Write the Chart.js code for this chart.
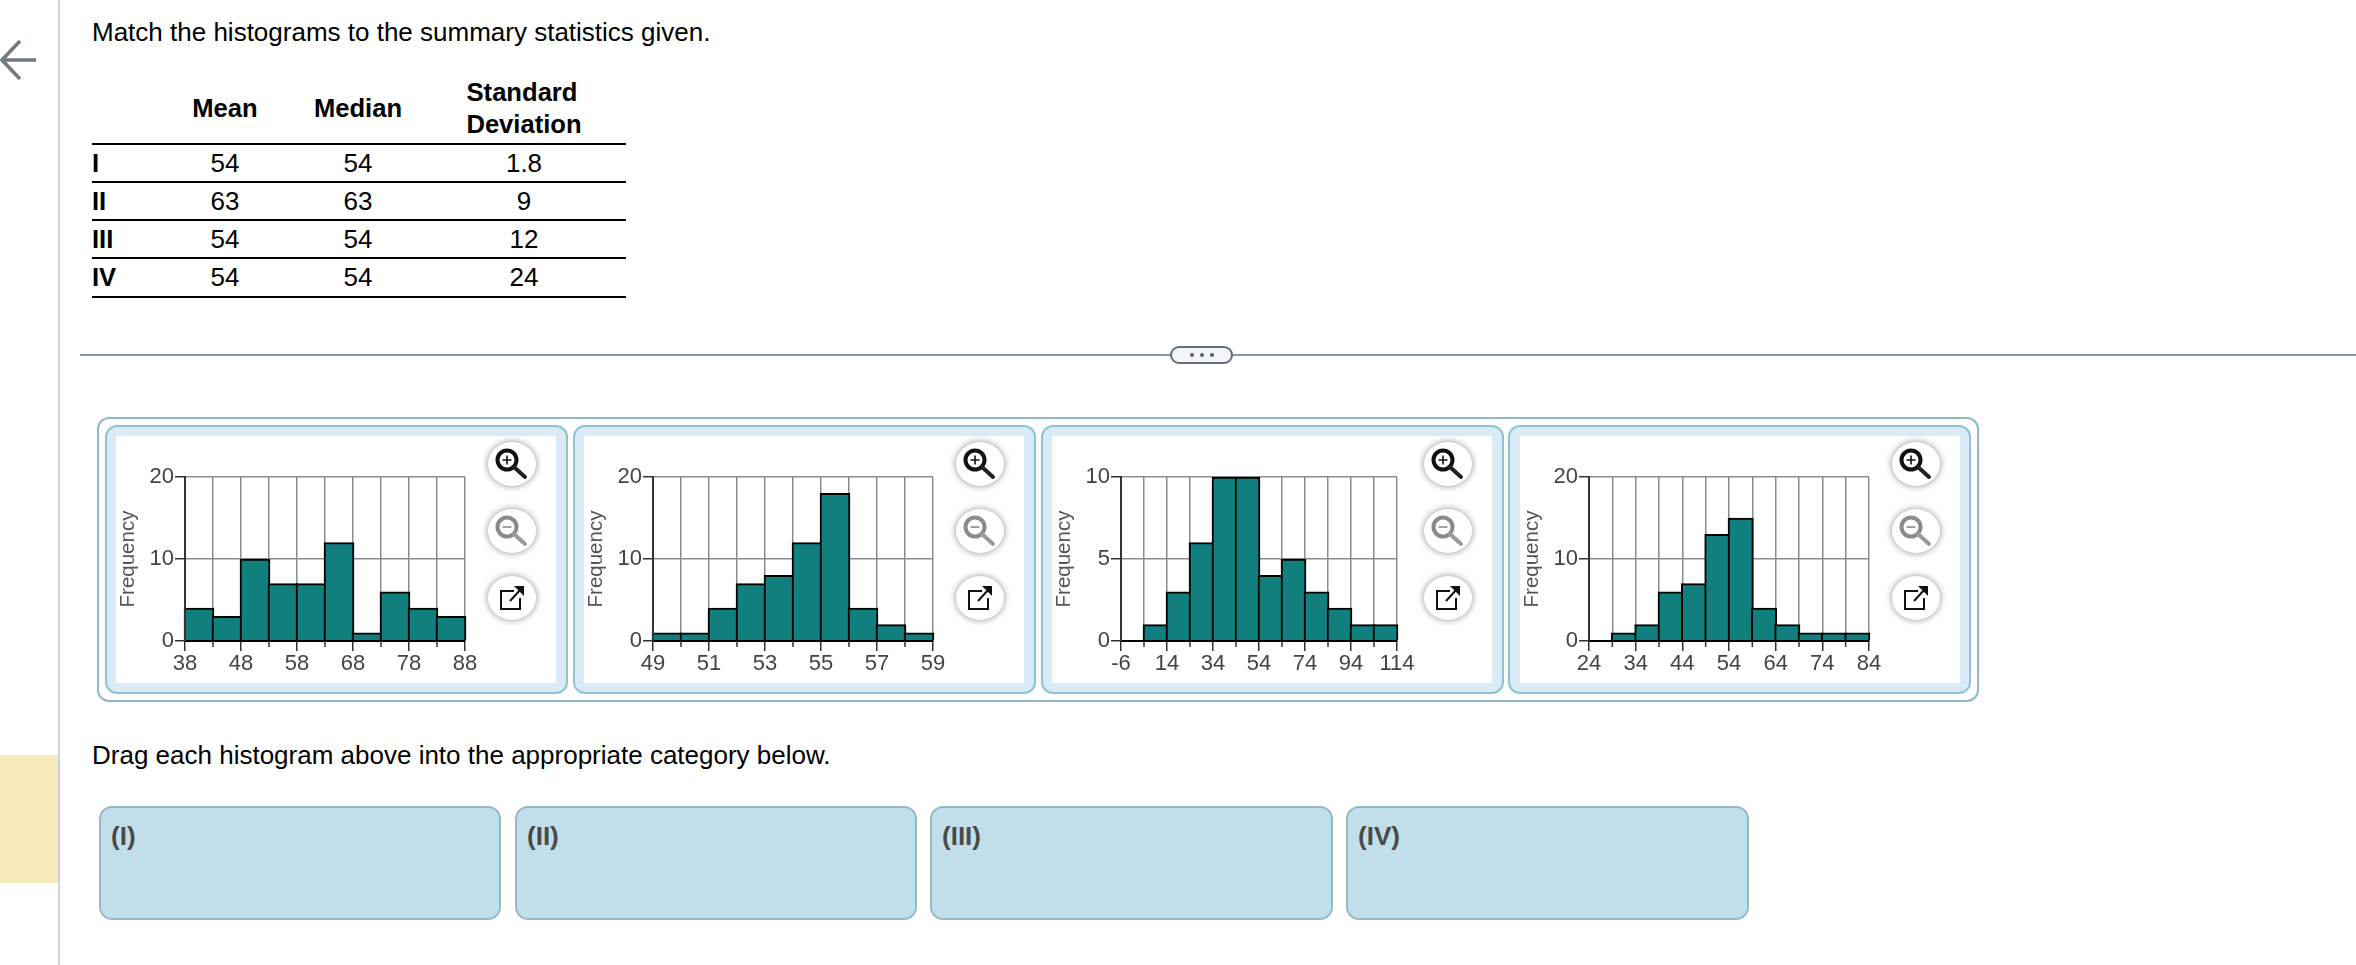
<!DOCTYPE html>
<html><head><meta charset="utf-8">
<script src="https://cdn.jsdelivr.net/npm/chart.js@4"></script>
<style>
html,body{margin:0;padding:0;background:#fff;width:2356px;height:965px;overflow:hidden;font-family:"Liberation Sans",Arial,sans-serif;color:#000}
.a{position:absolute;box-sizing:border-box}
.t{position:absolute;white-space:nowrap;font-size:26px;line-height:28px}
.c{transform:translateX(-50%)}
.b{font-weight:bold;font-size:25.6px}
.rule{position:absolute;left:92px;width:534px;height:2px;background:#000}
.card{position:absolute;top:425px;width:463px;height:269px;border:2px solid #8cc4da;border-radius:12px;background:#d9ebf4;box-sizing:border-box}
.white{position:absolute;top:436px;width:440px;height:247px;background:#fff}
canvas.h{position:absolute;top:436px}
.btn{position:absolute;width:48px;height:44px;border-radius:50%;background:#fff;box-shadow:0 0 7px rgba(0,0,0,.45)}
.btn svg{position:absolute;left:0;top:0}
.drop{position:absolute;top:806px;height:114px;background:#c1dfea;border:2px solid #96b9ca;border-radius:13px;box-sizing:border-box}
.drop span{position:absolute;left:10px;top:14px;font-size:26px;line-height:28px;font-weight:bold;color:#4a4a4a}
</style></head><body>
<div class="a" style="left:58px;top:0;width:2px;height:965px;background:#cbd3e3"></div>
<div class="a" style="left:0;top:755px;width:58px;height:128px;background:#f8e9bd"></div>
<svg class="a" style="left:0;top:36px" width="40" height="48"><path d="M36 24H3M20 5L2 24L20 43" fill="none" stroke="#6f7a80" stroke-width="3.5"/></svg>
<div class="t" id="q" style="left:92px;top:18px">Match the histograms to the summary statistics given.</div>
<div id="tbl"></div>
<div class="a" style="left:80px;top:354px;width:2276px;height:2px;background:#8a96a8"></div>
<div class="a" style="left:1170px;top:346px;width:63px;height:18px;background:#f3f5f7;border:2.5px solid #5f6f80;border-radius:9px"></div>
<div class="a" style="left:1190px;top:353px;width:4px;height:4px;border-radius:50%;background:#555e6a"></div>
<div class="a" style="left:1200px;top:353px;width:4px;height:4px;border-radius:50%;background:#555e6a"></div>
<div class="a" style="left:1210px;top:353px;width:4px;height:4px;border-radius:50%;background:#555e6a"></div>
<div class="a" style="left:97px;top:417px;width:1882px;height:285px;border:2px solid #92b7c6;border-radius:12px"></div>
<div id="charts"></div>
<div class="t" style="left:92px;top:741px">Drag each histogram above into the appropriate category below.</div>
<div id="drops"></div>
<script>
// Summary table
const rowLabels = ["I","II","III","IV"];
const means = [54,63,54,54];
const medians = [54,63,54,54];
const stdDevs = ["1.8","9","12","24"];
const dropLabels = ["(I)","(II)","(III)","(IV)"];

// Histogram 1
const centres1 = [40.5,45.5,50.5,55.5,60.5,65.5,70.5,75.5,80.5,85.5];
const counts1 = [4,3,10,7,7,12,1,6,4,3];
const edges1 = [38,43,48,53,58,63,68,73,78,83,88];
const yTicks1 = [0,10,20];
// Histogram 2
const centres2 = [49.5,50.5,51.5,52.5,53.5,54.5,55.5,56.5,57.5,58.5];
const counts2 = [1,1,4,7,8,12,18,4,2,1];
const edges2 = [49,50,51,52,53,54,55,56,57,58,59];
const yTicks2 = [0,10,20];
// Histogram 3
const centres3 = [-1,9,19,29,39,49,59,69,79,89,99,109];
const counts3 = [0,1,3,6,10,10,4,5,3,2,1,1];
const edges3 = [-6,4,14,24,34,44,54,64,74,84,94,104,114];
const yTicks3 = [0,5,10];
// Histogram 4
const centres4 = [26.5,31.5,36.5,41.5,46.5,51.5,56.5,61.5,66.5,71.5,76.5,81.5];
const counts4 = [0,1,2,6,7,13,15,4,2,1,1,1];
const edges4 = [24,29,34,39,44,49,54,59,64,69,74,79,84];
const yTicks4 = [0,10,20];

const panels = [
 {cardX:105,whiteX:116,plotL:185,plotR:465,btnX:488,c:centres1,v:counts1,e:edges1,y:yTicks1},
 {cardX:573,whiteX:584,plotL:653,plotR:933,btnX:956,c:centres2,v:counts2,e:edges2,y:yTicks2},
 {cardX:1041,whiteX:1052,plotL:1121,plotR:1397,btnX:1424,c:centres3,v:counts3,e:edges3,y:yTicks3},
 {cardX:1508,whiteX:1520,plotL:1589,plotR:1869,btnX:1892,c:centres4,v:counts4,e:edges4,y:yTicks4}
];

function txt(parent,s,x,cy,cls){const d=document.createElement('div');d.className='t '+(cls||'');d.textContent=s;d.style.left=x+'px';d.style.top=(cy-14)+'px';parent.appendChild(d);}
const tbl=document.getElementById('tbl');
txt(tbl,'Mean',225,108,'b c');txt(tbl,'Median',358,108,'b c');
txt(tbl,'Standard',522,92,'b c');txt(tbl,'Deviation',524,124,'b c');
[143,181,219,257,296].forEach(y=>{const r=document.createElement('div');r.className='rule';r.style.top=y+'px';tbl.appendChild(r);});
rowLabels.forEach((l,i)=>{const cy=163+38*i;
 txt(tbl,l,92,cy,'b');txt(tbl,String(means[i]),225,cy,'c');txt(tbl,String(medians[i]),358,cy,'c');txt(tbl,stdDevs[i],524,cy,'c');});

const dx=[99,515,930,1346], dw=[402,402,403,403];
const drops=document.getElementById('drops');
dropLabels.forEach((l,i)=>{const d=document.createElement('div');d.className='drop';d.style.left=dx[i]+'px';d.style.width=dw[i]+'px';
 const s=document.createElement('span');s.textContent=l;d.appendChild(s);drops.appendChild(d);});

const icons=[
 '<circle cx="19" cy="18" r="9.5" fill="none" stroke="#111" stroke-width="4"/><path d="M14.5 18h9M19 13.5v9" stroke="#111" stroke-width="1.6"/><path d="M26 25l11 10" stroke="#222" stroke-width="4" stroke-linecap="round"/>',
 '<circle cx="19" cy="18" r="9.5" fill="none" stroke="#8a8a8a" stroke-width="4"/><path d="M14.5 18h9" stroke="#8a8a8a" stroke-width="1.6"/><path d="M26 25l11 10" stroke="#9a9a9a" stroke-width="4" stroke-linecap="round"/>',
 '<path d="M26 15H13V33H32V22" fill="none" stroke="#111" stroke-width="2"/><path d="M22 25L33 13" stroke="#111" stroke-width="2"/><path d="M26 10H36V20Z" fill="#111"/>'
];

const minorTicks={id:'minorTicks',afterDraw(ch){const s=ch.scales.x,g=ch.ctx;g.save();g.strokeStyle='#333';g.lineWidth=1.5;
 s.ticks.forEach((t,i)=>{if(i%2){const p=s.getPixelForValue(t.value);g.beginPath();g.moveTo(p,s.top);g.lineTo(p,s.top+6);g.stroke();}});g.restore();}};

const host=document.getElementById('charts');
panels.forEach(p=>{
 const card=document.createElement('div');card.className='card';card.style.left=p.cardX+'px';host.appendChild(card);
 const w=document.createElement('div');w.className='white';w.style.left=p.whiteX+'px';host.appendChild(w);
 const cv=document.createElement('canvas');cv.className='h';cv.style.left=p.whiteX+'px';cv.width=370;cv.height=247;cv.style.width='370px';cv.style.height='247px';host.appendChild(cv);
 [0,1,2].forEach(k=>{const b=document.createElement('div');b.className='btn';b.style.left=p.btnX+'px';b.style.top=(442+67*k)+'px';
  b.innerHTML='<svg width="48" height="44">'+icons[k]+'</svg>';host.appendChild(b);});
 const bin=(p.plotR-p.plotL)/(p.e.length-1);
 new Chart(cv,{type:'bar',
  data:{datasets:[{data:p.c.map((c,i)=>({x:c,y:p.v[i]})),backgroundColor:'#127f7f',borderColor:'#000',borderWidth:2,borderSkipped:'bottom',barThickness:bin+2,clip:2}]},
  plugins:[minorTicks],
  options:{responsive:false,animation:false,devicePixelRatio:1,
   layout:{padding:{left:0,right:370-(p.plotR-p.whiteX),top:41,bottom:0}},
   plugins:{legend:{display:false},tooltip:{enabled:false}},
   scales:{
    x:{type:'linear',offset:false,min:p.e[0],max:p.e[p.e.length-1],
     afterBuildTicks:s=>{s.ticks=p.e.map(v=>({value:v}));},
     afterFit:s=>{s.height=42;},
     ticks:{autoSkip:false,maxRotation:0,padding:0,color:'#444',font:{family:'"Liberation Sans"',size:22},callback:(v,i)=>i%2?'':String(v)},
     grid:{offset:false,color:c=>c.index===0?'rgba(0,0,0,0)':'#8c8c8c',lineWidth:1.5,tickLength:10,tickColor:c=>c.index%2?'rgba(0,0,0,0)':'#333',tickWidth:1.5},
     border:{color:'#000',width:2,z:1}},
    y:{type:'linear',min:p.y[0],max:p.y[p.y.length-1],
     afterBuildTicks:s=>{s.ticks=p.y.map(v=>({value:v}));},
     afterFit:s=>{s.width=p.plotL-p.whiteX;},
     title:{display:true,text:'Frequency',color:'#555',font:{family:'"Liberation Sans"',size:20.5},padding:0},
     ticks:{padding:1,color:'#444',font:{family:'"Liberation Sans"',size:22}},
     grid:{color:'#8c8c8c',lineWidth:1.5,tickLength:10,tickColor:'#333',tickWidth:1.5},
     border:{color:'#333',width:2,z:1}}
   }}});
});
</script>
</body></html>
